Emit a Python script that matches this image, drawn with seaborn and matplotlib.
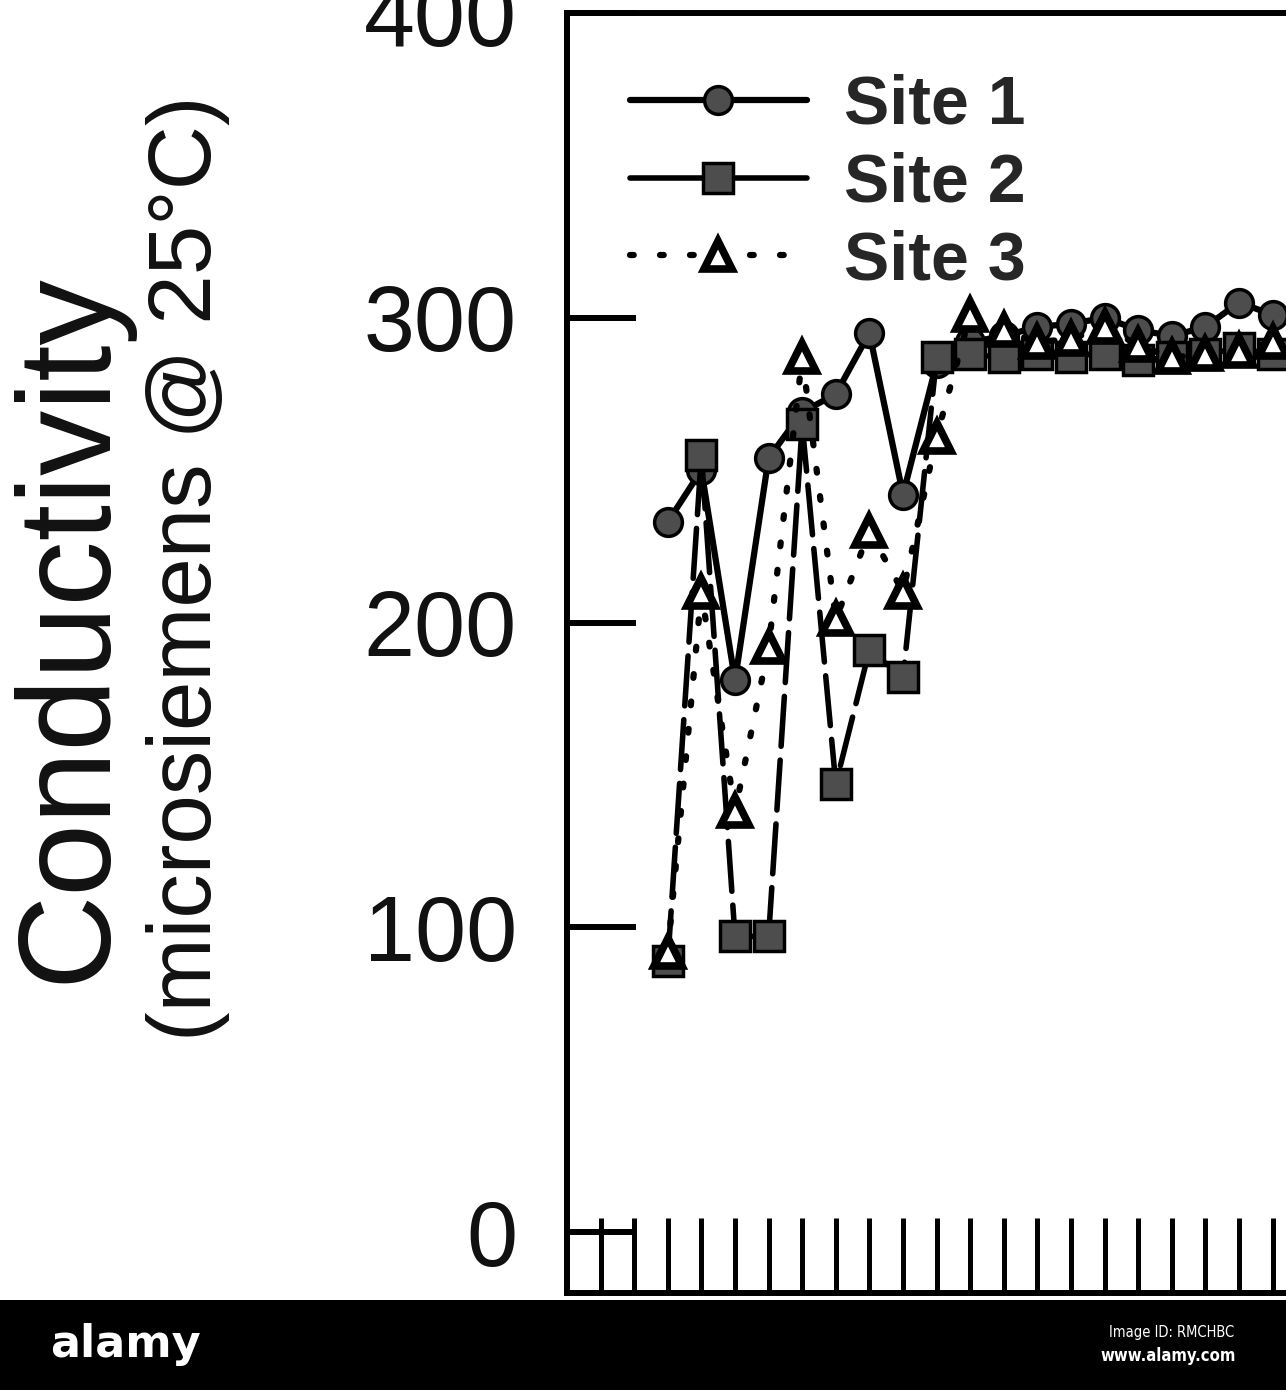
import numpy as np
import pandas as pd
import matplotlib
matplotlib.use("Agg")
import matplotlib.pyplot as plt
import seaborn as sns
from matplotlib.lines import Line2D
from matplotlib.patches import Rectangle

# ---- data ----
sample_index = list(range(3, 23))
site1 = [233, 250, 181, 254, 269, 275, 295, 242, 285,
         292, 294, 297, 298, 300, 296, 294, 297, 305, 301, 298]
site2 = [89, 255, 97, 97, 265, 147, 191, 182, 287,
         288, 287, 288, 287, 288, 286, 287, 288, 290, 288, 288]
site3 = [92, 210, 138, 192, 287, 201, 230, 210, 261,
         301, 296, 292, 293, 297, 291, 287, 288, 289, 292, 290]
site_names = ["Site 1", "Site 2", "Site 3"]
y_ticks = [0, 100, 200, 300, 400]
x_ticks = list(range(0, 31))

sns.set_theme(style="white")
plt.rcParams["font.family"] = ["Liberation Sans", "DejaVu Sans"]

W, H = 1286, 1390
fig = plt.figure(figsize=(W / 100, H / 100), dpi=100)
fig.patch.set_facecolor("white")

px_x = 33.6
left_px, top_px, bottom_px = 567, 13, 1293
ax = fig.add_axes([left_px / W, (H - bottom_px) / H,
                   30 * px_x / W, (bottom_px - top_px) / H])
ax.set_facecolor("white")

df = pd.DataFrame({"x": sample_index, "s1": site1, "s2": site2, "s3": site3})

styles = [
    dict(y="s1", marker="o", markersize=20, markerfacecolor="#4d4d4d",
         markeredgecolor="black", markeredgewidth=2.5, linestyle="-", lw=4.5,
         hls="-"),
    dict(y="s2", marker="s", markersize=22, markerfacecolor="#4d4d4d",
         markeredgecolor="black", markeredgewidth=2.5, linestyle=(0, (9, 2.5)), lw=4.0,
         hls="-"),
    dict(y="s3", marker="^", markersize=20, markerfacecolor="white",
         markeredgecolor="black", markeredgewidth=5.5, linestyle=(0, (0.6, 3.8)), lw=4.5,
         hls=(0, (0.6, 4.2))),
]
handles = []
for st, name in zip(styles, site_names):
    yk = st.pop("y")
    lw = st.pop("lw")
    ls = st.pop("linestyle")
    hls = st.pop("hls")
    sns.lineplot(data=df, x="x", y=yk, ax=ax, color="black", linewidth=lw,
                 linestyle=ls, dash_capstyle="round", solid_capstyle="round",
                 legend=False, **st)
    handles.append(Line2D([], [], color="black", linewidth=lw, linestyle=hls,
                          dash_capstyle="round", **st))

ax.set_xlim(0, 30)
ax.set_ylim(-20, 400)
ax.set_xticks(x_ticks)
ax.set_xticklabels([])
ax.set_yticks(y_ticks)
ax.set_yticklabels([str(v) for v in y_ticks], fontsize=66)
ax.set_xlabel("")
ax.set_ylabel("")
ax.tick_params(axis="y", direction="in", length=50, width=4.3, color="black",
               pad=36, left=True, labelcolor="#111111")
ax.tick_params(axis="x", direction="in", length=54, width=3.6, color="black",
               bottom=True, labelbottom=False)
for side in ["left", "bottom", "top", "right"]:
    ax.spines[side].set_color("black")
    ax.spines[side].set_linewidth(4.3)

leg = ax.legend(handles=handles, labels=site_names, loc="upper left",
                frameon=False, prop={"size": 49, "weight": "bold"},
                handlelength=2.6, handletextpad=0.55, labelspacing=0.2,
                borderpad=0, borderaxespad=0)
leg.set_bbox_to_anchor((630 / W, (H - 74) / H), transform=fig.transFigure)

fig.text(70 / W, 1 - 628 / H, "Conductivity", rotation=90, ha="center",
         va="center", fontsize=94, color="#111111")
fig.text(188 / W, 1 - 568 / H, "(microsiemens @ 25°C)", rotation=90,
         ha="center", va="center", fontsize=64, color="#111111")

# watermark strip at the bottom
fig.patches.append(Rectangle((0, 0), 1, 90 / H, transform=fig.transFigure,
                             facecolor="black", edgecolor="none", zorder=10))
fig.text(50 / W, 1 - 1345 / H, "alamy", ha="left", va="center", color="white",
         fontsize=32, fontweight="bold", zorder=11,
         family=["DejaVu Sans"])
fig.text(1234 / W, 1 - 1332 / H, "Image ID: RMCHBC", ha="right", va="center",
         color="white", fontsize=10.5, fontstretch="condensed", zorder=11,
         family=["DejaVu Sans"])
fig.text(1236 / W, 1 - 1356 / H, "www.alamy.com", ha="right", va="center",
         color="white", fontsize=12, fontweight="bold", fontstretch="condensed",
         zorder=11, family=["DejaVu Sans"])

fig.savefig("out.png", dpi=100, facecolor="white")
